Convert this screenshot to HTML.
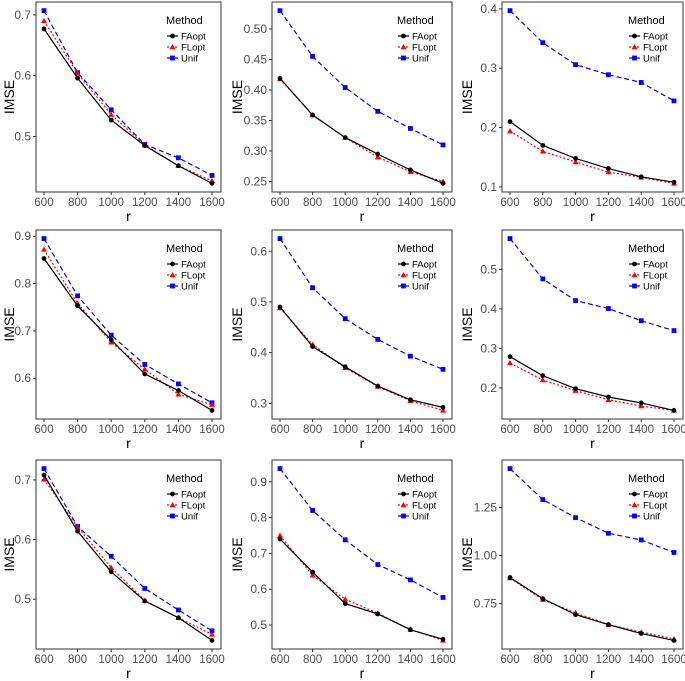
<!DOCTYPE html>
<html><head><meta charset="utf-8"><style>
body{margin:0;background:#fff;}
svg{display:block;font-family:"Liberation Sans",sans-serif;}
</style></head><body>
<svg id="fig" width="685" height="681" viewBox="0 0 685 681"></svg>
<script>
const rVals=[600,800,1000,1200,1400,1600];
const xTickLabels=["600","800","1000","1200","1400","1600"];
const methods=["FAopt","FLopt","Unif"];
// panel 1
const p1FA=[0.677,0.596,0.527,0.485,0.452,0.423];
const p1FL=[0.690,0.604,0.536,0.486,0.452,0.427];
const p1UN=[0.707,0.605,0.544,0.487,0.465,0.436];
const p1Ticks=[0.5,0.6,0.7];
const p1Labels=["0.5","0.6","0.7"];
// panel 2
const p2FA=[0.419,0.359,0.322,0.295,0.269,0.247];
const p2FL=[0.418,0.359,0.322,0.290,0.266,0.250];
const p2UN=[0.530,0.455,0.404,0.365,0.337,0.310];
const p2Ticks=[0.25,0.30,0.35,0.40,0.45,0.50];
const p2Labels=["0.25","0.30","0.35","0.40","0.45","0.50"];
// panel 3
const p3FA=[0.210,0.170,0.148,0.131,0.117,0.108];
const p3FL=[0.194,0.160,0.142,0.125,0.116,0.106];
const p3UN=[0.397,0.343,0.306,0.289,0.276,0.245];
const p3Ticks=[0.1,0.2,0.3,0.4];
const p3Labels=["0.1","0.2","0.3","0.4"];
// panel 4
const p4FA=[0.853,0.753,0.681,0.609,0.574,0.532];
const p4FL=[0.872,0.758,0.676,0.619,0.566,0.544];
const p4UN=[0.895,0.774,0.691,0.629,0.588,0.548];
const p4Ticks=[0.6,0.7,0.8,0.9];
const p4Labels=["0.6","0.7","0.8","0.9"];
// panel 5
const p5FA=[0.490,0.412,0.372,0.334,0.307,0.292];
const p5FL=[0.488,0.416,0.370,0.333,0.305,0.286];
const p5UN=[0.625,0.528,0.467,0.426,0.393,0.367];
const p5Ticks=[0.3,0.4,0.5,0.6];
const p5Labels=["0.3","0.4","0.5","0.6"];
// panel 6
const p6FA=[0.279,0.231,0.198,0.177,0.162,0.143];
const p6FL=[0.263,0.220,0.193,0.170,0.154,0.143];
const p6UN=[0.578,0.476,0.421,0.401,0.370,0.345];
const p6Ticks=[0.2,0.3,0.4,0.5];
const p6Labels=["0.2","0.3","0.4","0.5"];
// panel 7
const p7FA=[0.708,0.614,0.546,0.497,0.469,0.431];
const p7FL=[0.701,0.621,0.553,0.498,0.469,0.441];
const p7UN=[0.719,0.622,0.572,0.518,0.482,0.447];
const p7Ticks=[0.5,0.6,0.7];
const p7Labels=["0.5","0.6","0.7"];
// panel 8
const p8FA=[0.740,0.648,0.560,0.531,0.487,0.460];
const p8FL=[0.750,0.639,0.572,0.533,0.487,0.457];
const p8UN=[0.937,0.820,0.738,0.669,0.626,0.577];
const p8Ticks=[0.5,0.6,0.7,0.8,0.9];
const p8Labels=["0.5","0.6","0.7","0.8","0.9"];
// panel 9
const p9FA=[0.886,0.776,0.693,0.641,0.595,0.559];
const p9FL=[0.883,0.771,0.702,0.641,0.602,0.567];
const p9UN=[1.452,1.291,1.197,1.116,1.081,1.016];
const p9Ticks=[0.75,1.00,1.25];
const p9Labels=["0.75","1.00","1.25"];

const NS="http://www.w3.org/2000/svg";
const svg=document.getElementById('fig');
function mk(tag,attrs,parent){const e=document.createElementNS(NS,tag);for(const k in attrs)e.setAttribute(k,attrs[k]);(parent||svg).appendChild(e);return e;}

const cols=[{x0:36,x1:221,tx:9},{x0:272,x1:452,tx:237},{x0:502,x1:683,tx:467}];
const rows=[{y0:2,y1:192},{y0:230,y1:419},{y0:460,y1:649}];
const series=[[p1FA,p1FL,p1UN],[p2FA,p2FL,p2UN],[p3FA,p3FL,p3UN],[p4FA,p4FL,p4UN],[p5FA,p5FL,p5UN],[p6FA,p6FL,p6UN],[p7FA,p7FL,p7UN],[p8FA,p8FL,p8UN],[p9FA,p9FL,p9UN]];
const ticks=[p1Ticks,p2Ticks,p3Ticks,p4Ticks,p5Ticks,p6Ticks,p7Ticks,p8Ticks,p9Ticks];
const tlabels=[p1Labels,p2Labels,p3Labels,p4Labels,p5Labels,p6Labels,p7Labels,p8Labels,p9Labels];
const colors=["#000000","#ff0000","#0000ff"];
const dashes=["none","2,2","5,3"];

function marker(g,k,x,y,c){
  let m;
  if(k===0) m=mk('circle',{cx:x,cy:y,r:2.4,fill:c},g);
  else if(k===1) m=mk('polygon',{points:`${x},${y-3} ${x-3},${y+2.2} ${x+3},${y+2.2}`,fill:c},g);
  else m=mk('rect',{x:x-2.4,y:y-2.4,width:4.8,height:4.8,fill:c},g);
  return m;
}

for(let p=0;p<9;p++){
  const C=cols[p%3],R=rows[Math.floor(p/3)];
  const g=mk('g',{});
  
  
  let mn=Math.min(...series[p].flat()),mxv=Math.max(...series[p].flat());
  const pad=(mxv-mn)*0.05;
  const ymin=mn-pad,ymax=mxv+pad;
  const px0=C.x0+8,px1=C.x1-9;
  const sx=v=>px0+(v-rVals[0])/(rVals[rVals.length-1]-rVals[0])*(px1-px0);
  const sy=v=>R.y1-(v-ymin)/(ymax-ymin)*(R.y1-R.y0);
  const frame=mk('rect',{x:C.x0,y:R.y0,width:C.x1-C.x0,height:R.y1-R.y0,fill:'none',stroke:'#333',"stroke-width":1},g);
  
  
  ticks[p].forEach((t,i)=>{
    const y=sy(t);
    mk('line',{x1:C.x0-3,x2:C.x0,y1:y,y2:y,stroke:'#333'},g);
    const tx=mk('text',{x:C.x0-5,y:y+4,"text-anchor":"end","font-size":"12",fill:'#4d4d4d'},g);
    tx.textContent=tlabels[p][i];
    
    
  });
  rVals.forEach((r,i)=>{
    const x=sx(r);
    mk('line',{x1:x,x2:x,y1:R.y1,y2:R.y1+3,stroke:'#333'},g);
    const tx=mk('text',{x:x,y:R.y1+14,"text-anchor":"middle","font-size":"11.5",fill:'#4d4d4d'},g);
    tx.textContent=xTickLabels[i];
    
    
  });
  const xt=mk('text',{x:(C.x0+C.x1)/2,y:R.y1+29,"text-anchor":"middle","font-size":"14",fill:'#000'},g);
  xt.textContent='r';
  
  
  const cy=(R.y0+R.y1)/2;
  const yt=mk('text',{x:C.tx+5,y:cy,"text-anchor":"middle","font-size":"14",fill:'#000',transform:`rotate(-90 ${C.tx+5} ${cy})`},g);
  yt.textContent='IMSE';
  
  
  for(let k=2;k>=0;k--){
    const vals=series[p][k];
    const pts=vals.map((v,i)=>sx(rVals[i])+','+sy(v)).join(' ');
    const sg=mk('g',{},g);
    
    
    const pl=mk('polyline',{points:pts,fill:'none',stroke:colors[k],"stroke-width":1.2,"stroke-dasharray":dashes[k]},sg);
    
    
    vals.forEach((v,i)=>{
      const m=marker(sg,k,sx(rVals[i]),sy(v),colors[k]);
      
      
    });
  }
  const lg=mk('g',{},g);
  
  
  const lx=C.x1-55,ly=R.y0+18;
  const lt=mk('text',{x:lx,y:ly+4,"font-size":"11",fill:'#000'},lg);
  lt.textContent='Method';
  
  
  methods.forEach((m,k)=>{
    const yy=ly+16+k*11;
    mk('line',{x1:lx+1,x2:lx+12,y1:yy,y2:yy,stroke:colors[k],"stroke-width":1.2,"stroke-dasharray":dashes[k]},lg);
    marker(lg,k,lx+6.5,yy,colors[k]);
    const et=mk('text',{x:lx+15,y:yy+3.5,"font-size":"9.5",fill:'#000'},lg);
    et.textContent=m;
    
    
  });
}
</script>
</body></html>
